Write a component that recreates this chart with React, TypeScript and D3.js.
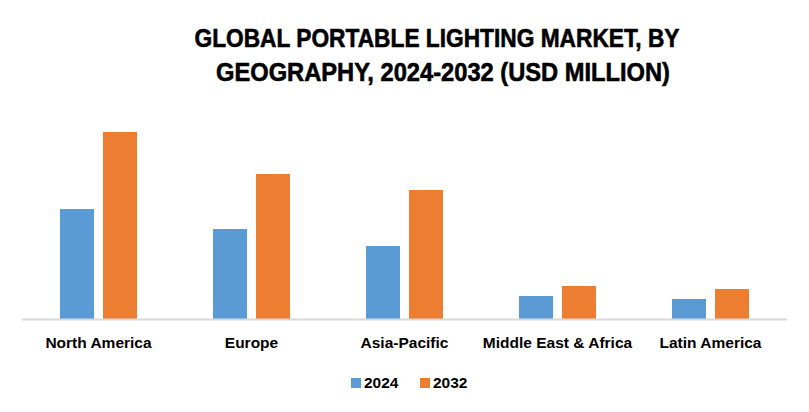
import React from "react";
import * as d3 from "d3";

const categories = ["North America", "Europe", "Asia-Pacific", "Middle East & Africa", "Latin America"];
const series = ["2024", "2032"];
const values2024 = [1100, 900, 730, 230, 200];
const values2032 = [1870, 1450, 1290, 330, 300];
const colors = ["#5B9BD5", "#ED7D31"];
const titleLines = ["GLOBAL PORTABLE LIGHTING MARKET, BY", "GEOGRAPHY, 2024-2032 (USD MILLION)"];

const W = 809;
const H = 412;

export default function App() {
  const x0 = d3.scaleBand<string>().domain(categories).range([22, 787]).paddingInner(0).paddingOuter(0);
  const groupW = 77;
  const x1 = d3.scaleBand<string>().domain(series).range([0, groupW]).paddingInner(9 / 43).paddingOuter(0);
  const y = d3.scaleLinear().domain([0, 1870]).range([319, 132]);
  const data = [values2024, values2032];
  const font = "'Liberation Sans', Arial, sans-serif";

  return (
    <div style={{ position: "absolute", left: 0, top: 0 }}>
      <svg width={W} height={H} style={{ display: "block", background: "#fff" }}>
        <rect width={W} height={H} fill="#fff" />
        <text x={437} y={47} textAnchor="middle" fontFamily={font} fontWeight="bold" fontSize={26.5}
          stroke="#000" strokeWidth={0.6}
          textLength={485} lengthAdjust="spacingAndGlyphs">{titleLines[0]}</text>
        <text x={443} y={81} textAnchor="middle" fontFamily={font} fontWeight="bold" fontSize={26.5}
          stroke="#000" strokeWidth={0.6}
          textLength={454} lengthAdjust="spacingAndGlyphs">{titleLines[1]}</text>
        {categories.map((c, i) => {
          const gx = (x0(c) as number) + (x0.bandwidth() - groupW) / 2;
          return (
            <g key={c}>
              {series.map((s, j) => (
                <rect key={s} x={gx + (x1(s) as number)} y={y(data[j][i])} width={x1.bandwidth()}
                  height={319 - y(data[j][i])} fill={colors[j]} />
              ))}
              <text x={(x0(c) as number) + x0.bandwidth() / 2} y={348} textAnchor="middle"
                fontFamily={font} fontWeight="bold" fontSize={15.5} fill="#000">{c}</text>
            </g>
          );
        })}
        <line x1={22} x2={787} y1={319.5} y2={319.5} stroke="#D9D9D9" strokeWidth={2} />
        {series.map((s, j) => {
          const lx = j === 0 ? 351 : 420;
          return (
            <g key={s}>
              <rect x={lx} y={378} width={10} height={10} fill={colors[j]} />
              <text x={lx + 13} y={388} fontFamily={font} fontWeight="bold" fontSize={15.5} fill="#000">{s}</text>
            </g>
          );
        })}
      </svg>
    </div>
  );
}
